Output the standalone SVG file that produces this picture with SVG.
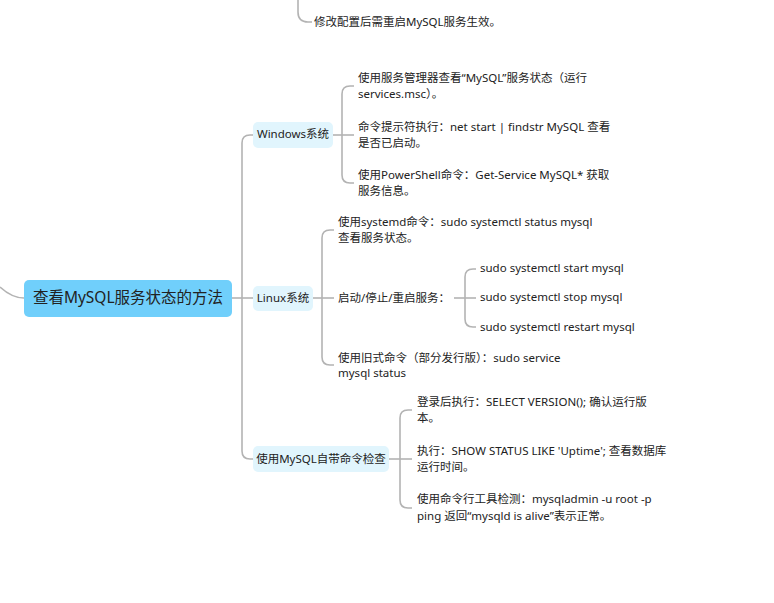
<svg xmlns="http://www.w3.org/2000/svg" width="774" height="603" viewBox="0 0 774 603">
<style>
text{font-family:"Noto Sans","Noto Sans CJK SC",sans-serif;font-size:11.5px;fill:#222;dominant-baseline:middle}
.c{fill:none;stroke:#b3b3b3;stroke-width:1.6}
.s{fill:#e1f5fd}
</style>
<rect width="774" height="603" fill="#fff"/>
<g id="connectors">
<path class="c" d="M298 0V12Q298 22 308 22H312"/>
<path class="c" d="M0 287Q12 298 24 298"/>
<path class="c" d="M232 298H242"/>
<path class="c" d="M253 135H250Q242 135 242 143V451Q242 459 250 459H253"/>
<path class="c" d="M242 298H253"/>
<path class="c" d="M333 135H342"/>
<path class="c" d="M354 86H350Q342 86 342 94V175Q342 183 350 183H354"/>
<path class="c" d="M342 135H354"/>
<path class="c" d="M313 298H334"/>
<path class="c" d="M334 230H330Q322 230 322 238V357Q322 365 330 365H334"/>
<path class="c" d="M454 298H476"/>
<path class="c" d="M476 269H473Q465 269 465 277V319Q465 327 473 327H476"/>
<path class="c" d="M389 459H412"/>
<path class="c" d="M412 410H408Q400 410 400 418V500Q400 508 408 508H412"/>
</g>
<g id="root"><rect x="24" y="280" width="208" height="37" rx="5" fill="#70cffb"/><text x="128" y="299" text-anchor="middle" style="font-size:15.5px">查看MySQL服务状态的方法</text></g>
<g id="top"><text x="314" y="23">修改配置后需重启MySQL服务生效。</text></g>
<g id="windows"><rect class="s" x="253" y="122" width="80" height="26" rx="5"/><text x="293" y="135" text-anchor="middle">Windows系统</text></g>
<g id="w1"><text x="358" y="79">使用服务管理器查看“MySQL”服务状态（运行</text><text x="358" y="95">services.msc）。</text></g>
<g id="w2"><text x="358" y="128">命令提示符执行：net start | findstr MySQL 查看</text><text x="358" y="144">是否已启动。</text></g>
<g id="w3"><text x="358" y="176">使用PowerShell命令：Get-Service MySQL* 获取</text><text x="358" y="192">服务信息。</text></g>
<g id="linux"><rect class="s" x="253" y="286" width="60" height="25" rx="5"/><text x="283" y="299" text-anchor="middle">Linux系统</text></g>
<g id="l1"><text x="338" y="223">使用systemd命令：sudo systemctl status mysql</text><text x="338" y="239">查看服务状态。</text></g>
<g id="l2"><text x="338" y="299">启动/停止/重启服务：</text></g>
<g id="l21"><text x="480" y="269">sudo systemctl start mysql</text></g>
<g id="l22"><text x="480" y="298">sudo systemctl stop mysql</text></g>
<g id="l23"><text x="480" y="328">sudo systemctl restart mysql</text></g>
<g id="l3"><text x="338" y="359">使用旧式命令（部分发行版）：sudo service</text><text x="338" y="374">mysql status</text></g>
<g id="mysql"><rect class="s" x="253" y="446" width="136" height="26" rx="5"/><text x="321" y="460" text-anchor="middle">使用MySQL自带命令检查</text></g>
<g id="m1"><text x="417" y="403">登录后执行：SELECT VERSION(); 确认运行版</text><text x="417" y="419">本。</text></g>
<g id="m2"><text x="417" y="452">执行：SHOW STATUS LIKE 'Uptime'; 查看数据库</text><text x="417" y="468">运行时间。</text></g>
<g id="m3"><text x="417" y="500">使用命令行工具检测：mysqladmin -u root -p</text><text x="417" y="517">ping 返回“mysqld is alive”表示正常。</text></g>
</svg>
